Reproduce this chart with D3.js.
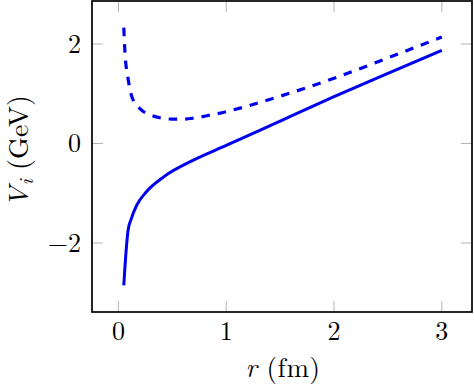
<!DOCTYPE html>
<html>
<head>
<meta charset="utf-8">
<script src="https://cdn.jsdelivr.net/npm/d3@7"></script>
<style>
  body { margin: 0; background: #fff; }
  text { font-variant-ligatures: none; }
</style>
</head>
<body>
<div id="chart"></div>
<script>
// values
var rSolid = [0.05, 0.07, 0.09, 0.115, 0.17, 0.26, 0.42, 0.7, 1.0, 1.5, 2.0, 2.5, 3.0];
var vSolid = [-2.85, -2.2, -1.74, -1.54, -1.24, -0.97, -0.67, -0.33, -0.04, 0.45, 0.94, 1.41, 1.87];

var rDashed = [0.05, 0.06, 0.09, 0.125, 0.2, 0.3, 0.4, 0.5, 0.6, 0.7, 0.85, 1.0, 1.16, 1.5, 2.0, 2.5, 3.0];
var vDashed = [2.33, 1.85, 1.3, 0.94, 0.7, 0.57, 0.51, 0.49, 0.49, 0.51, 0.57, 0.64, 0.73, 0.95, 1.31, 1.72, 2.14];

var xTicks = [0, 1, 2, 3];
var yTicks = [-2, 0, 2];

var serif = "'Latin Modern Roman', 'Liberation Serif', 'DejaVu Serif', serif";

let svg = d3.select("#chart")
            .append("svg")
            .attr("width", 474)
            .attr("height", 384)
            .style("font-family", serif);

let x = d3.scaleLinear().domain([-0.245, 3.28]).range([92, 472]);
let y = d3.scaleLinear().domain([-3.387, 2.864]).range([312, 1]);

// ticks (inside, on all four sides)
let gTicks = svg.append("g").attr("stroke", "#b3b3b3").attr("stroke-width", 1);
xTicks.forEach(function (t) {
  gTicks.append("line").attr("x1", x(t)).attr("x2", x(t)).attr("y1", 312).attr("y2", 301);
  gTicks.append("line").attr("x1", x(t)).attr("x2", x(t)).attr("y1", 1).attr("y2", 12);
});
yTicks.forEach(function (t) {
  gTicks.append("line").attr("x1", 92).attr("x2", 103).attr("y1", y(t)).attr("y2", y(t));
  gTicks.append("line").attr("x1", 472).attr("x2", 461).attr("y1", y(t)).attr("y2", y(t));
});

// curves
let line = d3.line()
             .x((d) => x(d[0]))
             .y((d) => y(d[1]))
             .curve(d3.curveMonotoneX);

svg.append("path")
   .datum(d3.zip(rSolid, vSolid))
   .attr("d", line)
   .attr("fill", "none")
   .attr("stroke", "#0000f0")
   .attr("stroke-width", 3);

svg.append("path")
   .datum(d3.zip(rDashed, vDashed))
   .attr("d", line)
   .attr("fill", "none")
   .attr("stroke", "#0000f0")
   .attr("stroke-width", 3.2)
   .attr("stroke-dasharray", "8.5,8");

// frame
svg.append("rect")
   .attr("x", 92).attr("y", 1)
   .attr("width", 380).attr("height", 311)
   .attr("fill", "none")
   .attr("stroke", "#000")
   .attr("stroke-width", 1.7);

// tick labels
let fmt = d3.format("d");
svg.selectAll(".xl")
   .data(xTicks)
   .enter()
   .append("text")
   .attr("x", (d) => x(d))
   .attr("y", 340)
   .attr("text-anchor", "middle")
   .style("font-size", "26px")
   .text((d) => fmt(d));

svg.selectAll(".yl")
   .data(yTicks)
   .enter()
   .append("text")
   .attr("x", 81)
   .attr("y", (d) => y(d) + 9)
   .attr("text-anchor", "end")
   .style("font-size", "26px")
   .text((d) => fmt(d));

// axis titles
let xt = svg.append("text")
            .attr("x", 283)
            .attr("y", 377)
            .attr("text-anchor", "middle")
            .style("font-size", "27px");
xt.append("tspan").style("font-style", "italic").text("r");
xt.append("tspan").style("letter-spacing", "0.6px").text(" (fm)");

let yt = svg.append("text")
            .attr("transform", "translate(28,151) rotate(-90)")
            .attr("text-anchor", "middle")
            .style("font-size", "28px");
yt.append("tspan").style("font-style", "italic").text("V");
yt.append("tspan").style("font-style", "italic").style("font-size", "19px").attr("dy", 5).attr("dx", 1).text("i");
yt.append("tspan").attr("dy", -5).text(" (GeV)");
</script>
</body>
</html>
